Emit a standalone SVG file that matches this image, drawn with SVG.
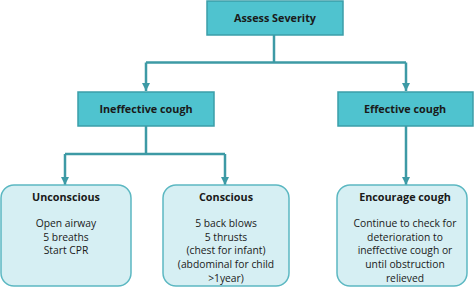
<svg xmlns="http://www.w3.org/2000/svg" width="474" height="288" viewBox="0 0 474 288">
<defs>
<marker id="ah" viewBox="0 0 10 10" refX="10" refY="5" markerWidth="8" markerHeight="8" markerUnits="userSpaceOnUse" orient="auto">
<path d="M0,0 L10,5 L0,10 z" fill="#3d9aa5"/>
</marker>
</defs>
<style>
.hd{fill:#4fc3cf;stroke:#3b9ea9;stroke-width:1.5}
.bx{fill:#d6eff3;stroke:#5cb8c2;stroke-width:1.5}
.c{fill:none;stroke:#3d9aa5;stroke-width:2.5}
.t{font-family:"Open Sans","DejaVu Sans",sans-serif;font-size:10.3px;fill:#1a1a1a;text-anchor:middle}
.b{font-weight:bold;font-size:10.8px}
</style>
<g id="connectors">
<path class="c" d="M274,35 V62.5"/>
<path class="c" d="M146,62.5 H406"/>
<path class="c" d="M146,62.5 V91" marker-end="url(#ah)"/>
<path class="c" d="M406,62.5 V91" marker-end="url(#ah)"/>
<path class="c" d="M146,126 V154"/>
<path class="c" d="M65,154 H225"/>
<path class="c" d="M65,154 V185" marker-end="url(#ah)"/>
<path class="c" d="M225,154 V185" marker-end="url(#ah)"/>
<path class="c" d="M406,126 V185" marker-end="url(#ah)"/>
</g>
<g id="assess">
<rect class="hd" x="207" y="1" width="136" height="34"/>
<text class="t b" x="275" y="22">Assess Severity</text>
</g>
<g id="ineffective">
<rect class="hd" x="78" y="92" width="136" height="34"/>
<text class="t b" x="146" y="113">Ineffective cough</text>
</g>
<g id="effective">
<rect class="hd" x="338" y="92" width="135" height="34"/>
<text class="t b" x="405" y="113">Effective cough</text>
</g>
<g id="unconscious">
<rect class="bx" x="1" y="185" width="130" height="101" rx="13"/>
<text class="t b" x="66" y="201">Unconscious</text>
<text class="t" x="66" y="227">Open airway</text>
<text class="t" x="66" y="241">5 breaths</text>
<text class="t" x="66" y="254">Start CPR</text>
</g>
<g id="conscious">
<rect class="bx" x="163" y="185" width="126" height="101" rx="13"/>
<text class="t b" x="226" y="201">Conscious</text>
<text class="t" x="226" y="227">5 back blows</text>
<text class="t" x="226" y="241">5 thrusts</text>
<text class="t" x="226" y="254">(chest for infant)</text>
<text class="t" x="226" y="268">(abdominal for child</text>
<text class="t" x="226" y="282">&gt;1year)</text>
</g>
<g id="encourage">
<rect class="bx" x="337" y="185" width="130" height="101" rx="13"/>
<text class="t b" x="405" y="201">Encourage cough</text>
<text class="t" x="405" y="227">Continue to check for</text>
<text class="t" x="405" y="241">deterioration to</text>
<text class="t" x="405" y="254">ineffective cough or</text>
<text class="t" x="405" y="268">until obstruction</text>
<text class="t" x="405" y="282">relieved</text>
</g>
</svg>
